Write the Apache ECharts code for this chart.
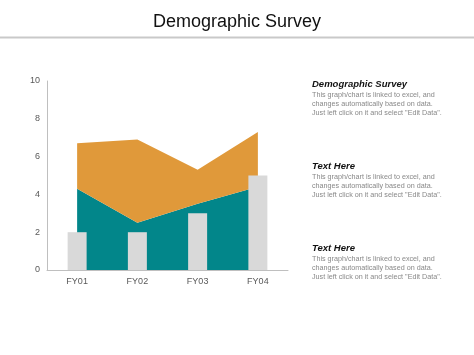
<!DOCTYPE html>
<html><head><meta charset="utf-8">
<script src="https://cdn.jsdelivr.net/npm/echarts@6/dist/echarts.min.js"></script>
<style>html,body{margin:0;padding:0;background:#fff}#c{width:474px;height:355px}</style>
</head><body><div id="c"></div>
<script>
var categories = ['FY01', 'FY02', 'FY03', 'FY04'];
var tealValues = [4.3, 2.5, 3.5, 4.4];
var orangeValues = [2.4, 4.4, 1.8, 2.9];
var barValues = [2, 2, 3, 5];
var yTicks = [0, 2, 4, 6, 8, 10];
var headings = ['Demographic Survey', 'Text Here', 'Text Here'];
var bodyText = 'This graph/chart is linked to excel, and\nchanges automatically based on data.\nJust left click on it and select "Edit Data".';

var font = '"Liberation Sans", Arial, sans-serif';
var chart = echarts.init(document.getElementById('c'));
var graphics = [{
  type: 'line', shape: {x1: 0, y1: 37.5, x2: 474, y2: 37.5},
  style: {stroke: '#c9c9c9', lineWidth: 2}, silent: true
}];
var blockTops = [79, 161, 243];
headings.forEach(function (h, i) {
  graphics.push({type: 'text', left: 312, top: blockTops[i],
    style: {text: h, font: 'italic bold 9.5px ' + font, fill: '#111'}});
  graphics.push({type: 'text', left: 312, top: blockTops[i] + 12,
    style: {text: bodyText, font: '7.2px ' + font, fill: '#888', lineHeight: 8.7}});
});
chart.setOption({
  animation: false,
  title: {text: 'Demographic Survey', left: 'center', top: 8,
    textStyle: {fontFamily: font, fontSize: 18, fontWeight: 'normal', color: '#111'}},
  grid: {left: 47, right: 186, top: 81, bottom: 85},
  xAxis: {type: 'category', data: categories, boundaryGap: true,
    axisLine: {lineStyle: {color: '#bfbfbf'}}, axisTick: {show: false},
    axisLabel: {color: '#595959', fontSize: 9, fontFamily: font, margin: 7}},
  yAxis: {type: 'value', min: yTicks[0], max: yTicks[yTicks.length - 1], interval: 2,
    axisLine: {show: true, lineStyle: {color: '#bfbfbf'}}, axisTick: {show: false},
    splitLine: {show: false},
    axisLabel: {color: '#595959', fontSize: 9, fontFamily: font, margin: 7}},
  series: [
    {type: 'line', stack: 'a', data: tealValues, symbol: 'none',
      lineStyle: {width: 0}, areaStyle: {color: '#02868A', opacity: 1}, z: 1},
    {type: 'line', stack: 'a', data: orangeValues, symbol: 'none',
      lineStyle: {width: 0}, areaStyle: {color: '#E0993A', opacity: 1}, z: 1},
    {type: 'bar', data: barValues, barWidth: 19, itemStyle: {color: '#D9D9D9'}, z: 3}
  ],
  graphic: graphics
});
</script></body></html>
